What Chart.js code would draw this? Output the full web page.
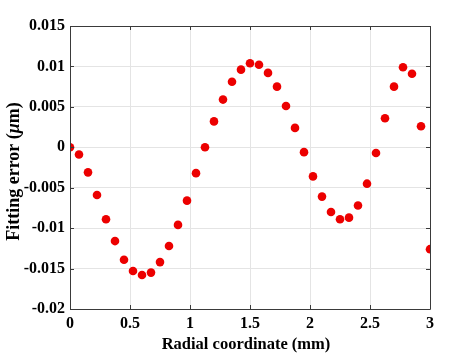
<!DOCTYPE html>
<html><head><meta charset="utf-8">
<script src="https://cdn.jsdelivr.net/npm/chart.js@4"></script>
<style>html,body{margin:0;padding:0;background:#fff}#wrap{width:474px;height:355px}</style>
</head><body><div id="wrap"><canvas id="c" width="474" height="355"></canvas></div>
<script>
const radial = [0,0.075,0.15,0.225,0.3,0.375,0.45,0.525,0.6,0.675,0.75,0.825,0.9,0.975,1.05,1.125,1.2,1.275,1.35,1.425,1.5,1.575,1.65,1.725,1.8,1.875,1.95,2.025,2.1,2.175,2.25,2.325,2.4,2.475,2.55,2.625,2.7,2.775,2.85,2.925,3.0];
const fitErr = [0,-0.0009,-0.0031,-0.0059,-0.0089,-0.0116,-0.0139,-0.0153,-0.0158,-0.0155,-0.0142,-0.0122,-0.0096,-0.0066,-0.0032,0.0000,0.0032,0.0059,0.0081,0.0096,0.0104,0.0102,0.0092,0.0075,0.0051,0.0024,-0.0006,-0.0036,-0.0061,-0.0080,-0.0089,-0.0087,-0.0072,-0.0045,-0.0007,0.0036,0.0075,0.0099,0.0091,0.0026,-0.0126];
const xTicks = [0,0.5,1,1.5,2,2.5,3];
const xTickLabels = ['0','0.5','1','1.5','2','2.5','3'];
const yTicks = [-0.02,-0.015,-0.01,-0.005,0,0.005,0.01,0.015];
const yTickLabels = ['-0.02','-0.015','-0.01','-0.005','0','0.005','0.01','0.015'];
const xTitle = 'Radial coordinate (mm)';
const yTitleParts = [['Fitting error (', ''], ['\u03bc', 'italic '], ['m)', '']];

const FONT = '"Liberation Serif", "Times New Roman", serif';
const AXIS = '#3a3a3a';
const GRID = '#e4e4e4';

function lbl(ticksArr, labels, v) {
  for (let i = 0; i < ticksArr.length; i++) if (Math.abs(ticksArr[i] - v) < 1e-9) return labels[i];
  return '';
}

const boxPlugin = {
  id: 'box',
  afterDraw(chart) {
    const {ctx, chartArea: a, scales} = chart;
    const xs = scales.x, ys = scales.y;
    ctx.save();
    ctx.strokeStyle = AXIS;
    ctx.lineWidth = 1;
    ctx.beginPath();
    ctx.rect(Math.round(a.left) + 0.5, Math.round(a.top) + 0.5, Math.round(a.right - a.left), Math.round(a.bottom - a.top));
    ctx.stroke();
    const tl = 4;
    ctx.beginPath();
    xTicks.forEach(v => {
      const px = Math.round(xs.getPixelForValue(v)) + 0.5;
      ctx.moveTo(px, a.bottom); ctx.lineTo(px, a.bottom - tl);
      ctx.moveTo(px, a.top); ctx.lineTo(px, a.top + tl);
    });
    yTicks.forEach(v => {
      const py = Math.round(ys.getPixelForValue(v)) + 0.5;
      ctx.moveTo(a.left, py); ctx.lineTo(a.left + tl, py);
      ctx.moveTo(a.right, py); ctx.lineTo(a.right - tl, py);
    });
    ctx.stroke();
    ctx.fillStyle = '#000';
    // x title
    ctx.font = 'bold 16.5px ' + FONT;
    ctx.textAlign = 'center';
    ctx.textBaseline = 'alphabetic';
    ctx.fillText(xTitle, (a.left + a.right) / 2 - 4, 349);
    // y title with italic mu
    ctx.textBaseline = 'middle';
    let total = 0;
    const widths = yTitleParts.map(([t, st]) => {
      ctx.font = st + 'bold 18px ' + FONT;
      const w = ctx.measureText(t).width; total += w; return w;
    });
    ctx.translate(14, (a.top + a.bottom) / 2 + 4);
    ctx.rotate(-Math.PI / 2);
    let x = -total / 2;
    yTitleParts.forEach(([t, st], i) => {
      ctx.font = st + 'bold 18px ' + FONT;
      ctx.textAlign = 'left';
      ctx.fillText(t, x, 0);
      x += widths[i];
    });
    ctx.restore();
  }
};

new Chart(document.getElementById('c'), {
  type: 'scatter',
  data: {
    datasets: [{
      data: radial.map((r, i) => ({x: r, y: fitErr[i]})),
      backgroundColor: 'rgb(236,0,0)',
      borderColor: 'rgb(236,0,0)',
      pointRadius: 4.3,
      borderWidth: 0
    }]
  },
  options: {
    responsive: false,
    animation: false,
    plugins: {legend: {display: false}, tooltip: {enabled: false}},
    layout: {padding: {left: 0, top: 26, right: 44, bottom: 0}},
    scales: {
      x: {
        type: 'linear', min: 0, max: 3,
        afterFit(s) { s.height = 46; },
        afterBuildTicks(s) { s.ticks = xTicks.map(v => ({value: v})); },
        ticks: {
          color: '#000', font: {family: FONT, size: 16, weight: 'bold'}, padding: 5,
          maxRotation: 0,
          callback: v => lbl(xTicks, xTickLabels, v)
        },
        grid: {color: GRID, drawTicks: false},
        border: {display: false}
      },
      y: {
        type: 'linear', min: -0.02, max: 0.015,
        afterFit(s) { s.width = 70; },
        afterBuildTicks(s) { s.ticks = yTicks.map(v => ({value: v})); },
        ticks: {
          color: '#000', font: {family: FONT, size: 16, weight: 'bold'}, padding: 5,
          callback: v => lbl(yTicks, yTickLabels, v)
        },
        grid: {color: GRID, drawTicks: false},
        border: {display: false}
      }
    }
  },
  plugins: [boxPlugin]
});
</script>
</body></html>
